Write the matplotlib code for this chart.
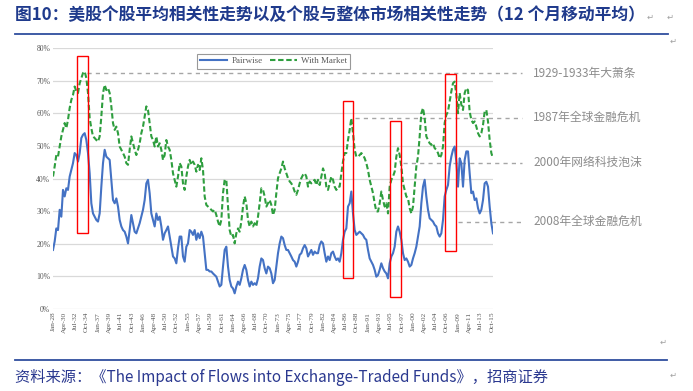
import numpy as np
import matplotlib
matplotlib.use("Agg")
import matplotlib.pyplot as plt
from matplotlib.lines import Line2D
from matplotlib.patches import Rectangle

plt.rcParams['font.family'] = ['Noto Sans CJK SC', 'DejaVu Sans']

# 12-month moving average correlation (%), one reading every 4 months from Jan-1928
pairwise = [
    18.1, 20.7, 24.7, 24.2, 30.4, 28.3, 36.5, 34.5, 37.0, 36.5,
    40.6, 42.6, 44.7, 47.8, 47.2, 45.2, 47.8, 52.4, 53.4, 53.9,
    51.8, 47.8, 41.6, 32.4, 29.3, 28.3, 27.3, 26.8, 29.3, 37.5,
    44.7, 48.8, 46.7, 46.2, 45.7, 39.6, 33.4, 32.4, 33.9, 31.4,
    27.3, 25.3, 24.2, 23.7, 22.2, 20.1, 24.2, 28.8, 26.3, 23.7,
    23.2, 24.7, 26.3, 28.3, 30.4, 33.4, 38.5, 39.6, 35.5, 29.3,
    27.3, 25.3, 29.3, 27.3, 28.3, 25.3, 21.2, 23.2, 24.2, 25.3,
    22.2, 19.1, 16.1, 15.5, 14.0, 18.6,
    22.2, 22.2, 16.1, 14.5, 19.1, 20.1, 24.2, 23.7, 22.7, 24.2,
    21.2, 23.2, 21.7, 23.7, 22.2, 17.1, 12.0, 12.0, 11.5, 11.5,
    10.9, 10.4, 9.9, 8.4, 6.9, 7.4, 13.0, 18.1, 19.1, 13.0,
    8.9, 6.9, 6.3, 4.8, 6.9, 8.4, 7.4, 9.4, 12.0, 13.5,
    12.0, 8.9, 6.9, 8.4, 7.4, 7.9, 7.4, 9.4, 13.0, 15.5,
    15.0, 12.5, 10.9, 13.0, 12.5, 10.9, 7.9, 8.9, 13.0, 17.1,
    20.1, 22.2, 21.7, 19.6, 18.1, 18.1, 17.1, 16.1, 15.0, 14.5,
    13.0, 14.5, 16.6, 17.1, 18.6, 19.6, 18.6, 16.1, 17.1, 18.1,
    16.6, 17.6, 17.1, 17.1,
    19.6, 20.7, 20.1, 17.1, 14.5, 16.1, 15.0, 17.1, 17.6, 16.1,
    15.0, 15.5, 14.5, 17.1, 21.2, 23.7, 24.7, 31.4, 32.4, 36.0,
    29.3, 24.2, 22.7, 23.2, 23.7, 23.2, 22.7, 21.7, 21.2, 18.1,
    15.5, 14.5, 13.5, 12.0, 9.9, 10.4, 12.0, 14.0, 12.5, 11.5,
    10.9, 9.4, 14.0, 16.1, 17.1, 19.1, 23.7, 25.3, 23.7, 21.2,
    17.1, 15.0, 15.5, 14.5, 13.0, 13.5, 15.5, 17.1, 19.1, 22.2,
    25.3, 32.4, 37.5, 39.6, 34.5, 30.4, 27.8, 27.3, 26.8, 25.8,
    25.3, 23.2, 22.2, 23.2, 27.3, 34.5, 36.5, 38.0, 43.7, 46.7,
    48.8, 49.8, 45.2, 37.5, 46.2, 44.7, 37.5, 45.7, 48.3, 48.3,
    41.6, 35.5, 36.0, 33.4, 33.9, 30.9, 29.3, 30.4, 33.4, 38.5,
    39.0, 37.5, 31.4, 26.3, 23.2,
]
with_market = [
    40.6, 43.7, 47.2, 46.7, 49.8, 52.9, 54.9, 57.0, 55.4, 58.0,
    61.6, 64.1, 65.6, 68.2, 66.7, 66.2, 69.2, 70.8, 72.3, 72.8,
    70.8, 66.2, 58.5, 55.4, 52.9, 52.4, 51.8, 51.3, 52.9, 59.0,
    66.2, 68.7, 67.1, 67.7, 66.2, 62.1, 57.0, 54.9, 55.9, 53.9,
    49.8, 48.8, 47.8, 46.7, 44.7, 44.2, 48.8, 52.9, 50.8, 48.8,
    47.2, 48.8, 50.8, 53.9, 55.9, 59.0, 62.1, 61.0, 57.0, 52.9,
    51.8, 49.8, 52.9, 49.8, 50.8, 48.8, 45.7, 47.2, 51.8, 49.8,
    48.8, 45.7, 41.6, 39.6, 37.5, 40.6,
    44.7, 43.7, 38.5, 36.5, 40.6, 43.7, 45.7, 44.2, 45.2, 44.2,
    42.1, 44.2, 42.6, 46.2, 42.6, 34.5, 31.9, 31.4, 30.9, 30.4,
    29.9, 30.4, 28.8, 26.8, 25.3, 27.3, 35.5, 39.6, 39.6, 31.4,
    24.2, 22.2, 22.7, 20.1, 23.2, 24.7, 23.7, 26.8, 31.4, 34.5,
    32.4, 27.3, 25.3, 26.8, 25.3, 26.3, 25.3, 28.3, 32.4, 37.0,
    36.5, 34.5, 31.4, 32.4, 33.4, 31.9, 28.8, 30.4, 35.5, 40.1,
    41.6, 43.1, 45.2, 43.1, 41.6, 40.1, 39.1, 38.5, 37.5, 36.0,
    35.0, 36.5, 38.5, 40.1, 41.1, 41.6, 40.6, 37.5, 39.1, 38.5,
    39.1, 39.6, 38.0, 39.6,
    38.0, 40.6, 43.1, 41.6, 37.5, 36.5, 38.5, 40.6, 39.6, 37.5,
    36.5, 37.5, 37.5, 41.6, 45.2, 47.8, 47.8, 51.8, 54.9, 58.5,
    53.9, 48.8, 46.7, 46.7, 47.2, 47.8, 47.2, 46.2, 44.7, 42.6,
    39.6, 37.5, 35.5, 32.4, 29.9, 29.9, 32.4, 36.0, 33.4, 31.4,
    32.4, 29.3, 37.5, 39.6, 40.6, 42.1, 46.7, 49.3, 47.2, 43.7,
    38.5, 36.5, 34.5, 33.9, 30.9, 29.3, 31.4, 37.5, 43.7, 46.7,
    52.9, 60.0, 61.6, 58.5, 52.9, 51.8, 50.8, 50.3, 50.8, 49.3,
    48.8, 47.8, 46.2, 47.2, 49.8, 57.0, 59.5, 60.5, 63.6, 66.7,
    69.2, 69.7, 65.6, 60.0, 66.2, 62.6, 61.0, 66.2, 67.7, 67.1,
    60.5, 58.0, 57.0, 57.5, 55.9, 53.9, 52.9, 53.9, 56.4, 60.5,
    61.0, 57.5, 51.8, 47.8, 46.2,
]
years = 1928 + np.arange(len(pairwise)) / 3.0

tick_labels = [
    "Jan-28", "Apr-30", "Jul-32", "Oct-34", "Jan-37", "Apr-39", "Jul-41", "Oct-43",
    "Jan-46", "Apr-48", "Jul-50", "Oct-52", "Jan-55", "Apr-57", "Jul-59", "Oct-61",
    "Jan-64", "Apr-66", "Jul-68", "Oct-70", "Jan-73", "Apr-75", "Jul-77", "Oct-79",
    "Jan-82", "Apr-84", "Jul-86", "Oct-88", "Jan-91", "Apr-93", "Jul-95", "Oct-97",
    "Jan-00", "Apr-02", "Jul-04", "Oct-06", "Jan-09", "Apr-11", "Jul-13", "Oct-15",
]
tick_years = 1928 + 2.25 * np.arange(len(tick_labels))

# crisis guides: label, level (%), year where the dashed guide starts
crisis_names = ["1929-1933年大萧条", "1987年全球金融危机", "2000年网络科技泡沫", "2008年全球金融危机"]
crisis_levels = [72.2, 58.6, 44.9, 26.8]
crisis_starts = [1934.8, 1988.4, 1998.0, 2009.0]

# red boxes around the crisis periods (years, % range)
box_years = [(1932.7, 1934.9), (1985.9, 1988.0), (1995.4, 1997.7), (2006.4, 2008.6)]
box_ranges = [(23.4, 77.4), (9.6, 63.7), (3.6, 57.7), (17.9, 71.9)]

W, H = 693, 391
fig = plt.figure(figsize=(W / 100, H / 100), dpi=100)
ax = fig.add_axes([53 / W, 1 - 309 / H, 440 / W, 261 / H])

serif = ['Liberation Serif', 'DejaVu Serif']
grey = '#595959'

ax.plot(years, pairwise, color='#4472C4', lw=1.5, label='Pairwise', zorder=3)
ax.plot(years, with_market, color='#2E9E3E', lw=1.5, ls=(0, (2.6, 1.3)),
        label='With Market', zorder=3)

ax.set_xlim(1928, 2016)
ax.set_ylim(0, 80)
ax.set_yticks(np.arange(0, 81, 10))
ax.set_yticklabels([f"{v}%" for v in range(0, 81, 10)], family=serif, fontsize=5.5, color=grey)
ax.set_xticks(tick_years)
ax.set_xticklabels(tick_labels, rotation=90, family=serif, fontsize=5.3, color=grey)
ax.tick_params(length=0, pad=2)
ax.grid(axis='y', color='#D9D9D9', lw=0.9)
ax.set_axisbelow(True)
for s in ax.spines.values():
    s.set_visible(False)

for (x0, x1), (y0, y1) in zip(box_years, box_ranges):
    ax.add_patch(Rectangle((x0, y0), x1 - x0, y1 - y0, fill=False,
                           edgecolor='#FF0000', lw=1.0, zorder=4))

for name, lvl, x0 in zip(crisis_names, crisis_levels, crisis_starts):
    ax.plot([x0, 2021.8], [lvl, lvl], color='#A6A6A6', lw=1.0, ls=(0, (3, 3)),
            clip_on=False, zorder=2)
    ax.text(2024, lvl, name, fontsize=8.5, color='#8C8C8C', va='center', ha='left',
            clip_on=False)

leg = ax.legend(loc='upper left', bbox_to_anchor=(197 / W, 1 - 54 / H),
                bbox_transform=fig.transFigure, ncol=2, frameon=True, fancybox=False,
                prop={'family': serif, 'size': 6.5}, handlelength=3.0,
                handletextpad=0.45, columnspacing=0.8, borderpad=0.35,
                borderaxespad=0)
leg.get_frame().set_edgecolor('#808080')
leg.get_frame().set_linewidth(0.8)
for t in leg.get_texts():
    t.set_color(grey)

navy = '#1F3A8C'
fig.text(15 / W, 1 - 15 / H,
         "图10：美股个股平均相关性走势以及个股与整体市场相关性走势（12 个月移动平均）",
         fontsize=12.1, weight='bold', color=navy, va='center', ha='left')
fig.add_artist(Line2D([15 / W, 668 / W], [1 - 34 / H, 1 - 34 / H], color='#2F4E9E', lw=1.3))
fig.add_artist(Line2D([15 / W, 667 / W], [1 - 360 / H, 1 - 360 / H], color='#2F4E9E', lw=1.3))
fig.text(15 / W, 1 - 377 / H,
         "资料来源：《The Impact of Flows into Exchange-Traded Funds》，招商证券",
         fontsize=11, color='#2B3990', va='center', ha='left')

for (px, py) in [(650, 17), (670, 17), (673, 41), (663, 342), (673, 375)]:
    fig.text(px / W, 1 - py / H, "↵", fontsize=6, color='#A0A0A0',
             family='DejaVu Sans', va='center', ha='center')

fig.savefig("out.png", dpi=100)
